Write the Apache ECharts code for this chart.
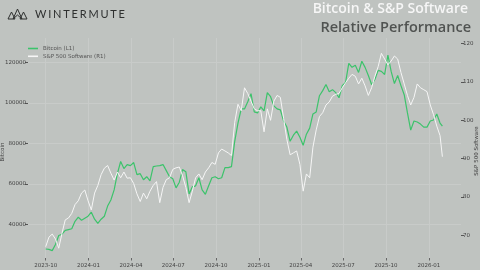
<!DOCTYPE html>
<html lang="en">
<head>
<meta charset="UTF-8" />
<title>Bitcoin & S&P Software</title>
<script src="https://cdn.jsdelivr.net/npm/echarts@6/dist/echarts.min.js"></script>
<style>
  html, body { margin: 0; padding: 0; background: #bfc3c0; }
  .wrap { position: relative; width: 480px; height: 270px; }
  #main { width: 480px; height: 270px; }
  .brand {
    position: absolute; left: 35px; top: 7px;
    font: 400 11px 'Lato', 'Noto Sans', sans-serif;
    letter-spacing: 1.8px; color: #2e302f;
  }
</style>
</head>
<body>
<div class="wrap">
  <div id="main"></div>
  <div class="brand">WINTERMUTE</div>
</div>
<script>
// weekly points from 2023-10-01, last one is the 2026-01-30 print
const firstWeek = [2023, 9, 1];
const lastDay = [2026, 0, 30];

// Bitcoin, USD (left axis)
const btc = [
  27800, 27600, 27000, 30000, 34500, 35100, 37000, 37400, 37800, 41500,
  43500, 42000, 43000, 44000, 46000, 42500, 40500, 42500, 44000, 49000,
  52000, 57000, 65000, 71000, 67500, 69500, 69000, 70500, 64500, 65000,
  62000, 63500, 61500, 68500, 68800, 69000, 69500, 66500, 63500, 62500,
  58000, 60800, 67000, 66000, 55000, 58500, 59000, 63000, 57000, 54800,
  59000, 63000, 63500, 62500, 63000, 68000, 68000, 68500, 81000, 90000,
  97000, 97000, 100500, 104500, 95500, 95000, 98000, 96000, 105000, 103000,
  98500, 97000, 96500, 91000, 88000, 81000, 84000, 86000, 83000, 79000,
  84500, 87500, 94500, 95500, 103500, 106000, 109000, 105500, 106500, 105000,
  102500, 108500, 110000, 119500, 117500, 118500, 115000, 120500, 117500, 113500,
  109000, 111500, 116000, 115500, 114000, 123500, 115500, 109500, 113500, 108500,
  104000, 95000, 86500, 91000, 90500, 89500, 88000, 88000, 91000, 91500,
  94500, 90000, 88500
];

// S&P 500 Software index (right axis)
const software = [
  67.0, 69.5, 70.3, 69.0, 66.6, 70.5, 74.0, 74.5, 75.7, 78.0,
  79.0, 81.0, 81.8, 79.0, 76.6, 81.0, 83.0, 85.8, 87.5, 88.2,
  86.2, 84.4, 86.5, 85.0, 86.5, 84.9, 85.0, 83.5, 80.8, 78.8,
  81.0, 79.5, 81.5, 83.0, 84.0, 78.5, 82.5, 84.5, 85.0, 87.2,
  87.6, 87.8, 85.5, 82.5, 78.5, 81.5, 85.0, 86.0, 84.5, 86.5,
  87.6, 89.0, 88.5, 91.5, 92.5, 92.0, 91.5, 90.8, 99.5, 104.2,
  102.5, 108.5, 107.0, 105.0, 103.0, 102.5, 102.5, 97.0, 103.0, 100.0,
  105.0, 106.5, 106.0, 100.5, 95.0, 91.0, 91.5, 92.0, 88.5, 81.5,
  86.0, 85.0, 93.0, 97.5, 101.0, 102.0, 104.0, 104.8, 106.3, 106.8,
  107.0, 108.5, 109.8, 111.0, 112.0, 111.5, 109.5, 111.0, 109.0, 106.5,
  108.5, 111.5, 114.0, 117.5, 116.0, 114.5, 115.5, 116.8, 116.0, 112.5,
  109.5, 106.5, 104.0, 106.0, 109.5, 108.5, 108.0, 107.5, 104.0, 101.5,
  98.5, 96.0, 90.5
];

const xTicks = ['2023-10', '2024-01', '2024-04', '2024-07', '2024-10',
                '2025-01', '2025-04', '2025-07', '2025-10', '2026-01'];
const btcTicks = [40000, 60000, 80000, 100000, 120000];
const swTicks = [70, 80, 90, 100, 110, 120];

const dates = btc.map((_, i) => i === btc.length - 1
  ? new Date(lastDay[0], lastDay[1], lastDay[2]).getTime()
  : new Date(firstWeek[0], firstWeek[1], firstWeek[2] + 7 * i).getTime());

const tickTimes = xTicks.map(s => {
  const [y, m] = s.split('-').map(Number);
  return new Date(y, m - 1, 1).getTime();
});

const GREEN = '#3cc36b';
const WHITE = '#f6f6f6';
const GRID = '#c8cbc9';
const LABEL = '#444';
const font = "'DejaVu Sans', sans-serif";

const chart = echarts.init(document.getElementById('main'));

const option = {
  backgroundColor: '#bfc3c0',
  animation: false,
  grid: { left: 28, right: 19, top: 38, bottom: 12 },
  legend: {
    orient: 'vertical', left: 28, top: 45.5, padding: 0,
    itemWidth: 10, itemHeight: 1.6, itemGap: 1.8, icon: 'rect',
    textStyle: { fontSize: 5.5, color: '#555', fontFamily: font }
  },
  xAxis: {
    // timestamps on a plain value axis, quarter ticks placed by hand
    type: 'value',
    min: new Date(2023, 7, 24).getTime(),
    max: new Date(2026, 2, 11).getTime(),
    axisLine: { show: false },
    axisTick: { customValues: tickTimes, length: 2.5, lineStyle: { color: '#666' } },
    axisLabel: {
      customValues: tickTimes, fontSize: 5.5, color: LABEL, fontFamily: font, margin: 4.5,
      formatter: v => xTicks[tickTimes.indexOf(v)] || ''
    },
    splitLine: { show: true, lineStyle: { color: GRID, width: 1 } }
  },
  yAxis: [
    {
      type: 'value', position: 'left', min: 23360, max: 132000,
      axisLine: { show: false },
      axisTick: { show: true, customValues: btcTicks, length: 3, lineStyle: { color: '#555' } },
      axisLabel: {
        customValues: btcTicks, fontSize: 5.5, color: LABEL, fontFamily: font, margin: 2,
        formatter: v => String(v)
      },
      splitLine: { show: true, lineStyle: { color: GRID, width: 1 } }
    },
    {
      type: 'value', position: 'right', min: 64.05, max: 121.5,
      axisLine: { show: false },
      axisTick: { show: true, customValues: swTicks, length: 3, lineStyle: { color: '#555' } },
      axisLabel: {
        customValues: swTicks, fontSize: 5.5, color: LABEL, fontFamily: font, margin: 2,
        formatter: v => String(v)
      },
      splitLine: { show: false }
    }
  ],
  series: [
    {
      name: 'Bitcoin (L1)', type: 'line', yAxisIndex: 0, symbol: 'none',
      data: dates.map((d, i) => [d, btc[i]]),
      lineStyle: { color: GREEN, width: 1.2 }, itemStyle: { color: GREEN }
    },
    {
      name: 'S&P 500 Software (R1)', type: 'line', yAxisIndex: 1, symbol: 'none',
      data: dates.map((d, i) => [d, software[i]]),
      lineStyle: { color: WHITE, width: 1 }, itemStyle: { color: WHITE }
    }
  ],
  graphic: [
    // logo mark
    {
      type: 'polyline', shape: { points: [[8, 19], [11.5, 12], [15, 19], [8, 19]] },
      style: { stroke: '#2e302f', fill: 'none', lineWidth: 1 }
    },
    {
      type: 'polyline', shape: { points: [[13, 19], [17.5, 9], [22, 19], [17.5, 15], [13, 19]] },
      style: { stroke: '#2e302f', fill: 'none', lineWidth: 1 }
    },
    {
      type: 'polyline', shape: { points: [[20, 19], [23.5, 12], [27, 19], [20, 19]] },
      style: { stroke: '#2e302f', fill: 'none', lineWidth: 1 }
    },
    {
      type: 'text', x: 468, y: 9.5,
      style: {
        text: 'Bitcoin & S&P Software', align: 'right', verticalAlign: 'middle',
        font: "600 14px 'Open Sans', sans-serif", fill: '#f6f6f6'
      }
    },
    {
      type: 'text', x: 471, y: 28,
      style: {
        text: 'Relative Performance', align: 'right', verticalAlign: 'middle',
        font: "600 14.5px 'Open Sans', sans-serif", fill: '#505351'
      }
    },
    {
      type: 'text', x: 3, y: 152, rotation: Math.PI / 2,
      style: { text: 'Bitcoin', align: 'center', verticalAlign: 'middle', font: '5.5px ' + font, fill: LABEL }
    },
    {
      type: 'text', x: 477, y: 151, rotation: Math.PI / 2,
      style: { text: 'S&P 500 Software', align: 'center', verticalAlign: 'middle', font: '5.5px ' + font, fill: LABEL }
    }
  ]
};

chart.setOption(option);
</script>
</body>
</html>
